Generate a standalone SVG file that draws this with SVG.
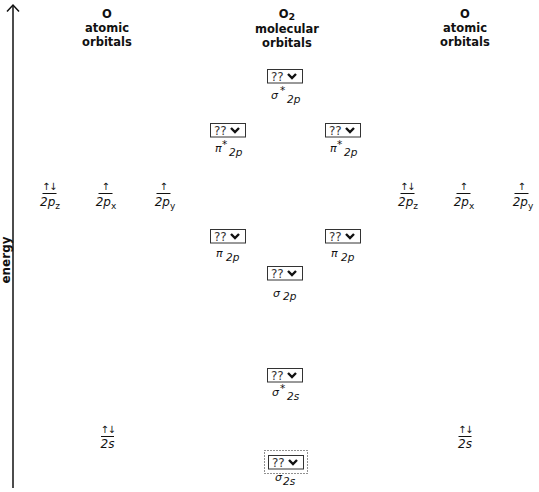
<svg xmlns="http://www.w3.org/2000/svg" width="539" height="492" viewBox="0 0 539 492">
<style>
text{font-family:"DejaVu Sans","Verdana",sans-serif;fill:#111}
.hd{font-weight:bold;font-size:11.5px;text-anchor:middle}
.dd{font-size:12px;fill:#333}
.gr{font-size:11px;font-style:italic}
.st{font-size:10.5px}
.sb{font-size:10.5px;font-style:italic}
.ar{font-size:10px;text-anchor:middle;letter-spacing:-1.5px}
.ao{font-size:12px;font-style:italic;text-anchor:middle}
.ao tspan.s{font-size:9px;font-style:normal}
.lv{stroke:#111;stroke-width:1}
.box{fill:#fff;stroke:#333;stroke-width:1}
.chev{fill:none;stroke:#111;stroke-width:2.4;stroke-linecap:butt;stroke-linejoin:miter}
</style>
<defs>
<symbol id="dd" overflow="visible">
<rect class="box" x="0.5" y="0.5" width="35" height="13.5"/>
<path class="chev" d="M21 5 L25 9 L29 5"/>
</symbol>
</defs>
<rect width="539" height="492" fill="#fff"/>
<g id="axis">
<line x1="13" y1="5" x2="13" y2="488" stroke="#111" stroke-width="1.5"/>
<path d="M7 11.5 L13 5 L19 11.5" fill="none" stroke="#111" stroke-width="1.5"/>
<text transform="translate(9.5,260) rotate(-90)" text-anchor="middle" font-weight="bold" font-size="12">energy</text>
</g>
<g id="header-left">
<text class="hd" x="107" y="18">O</text>
<text class="hd" x="107" y="32">atomic</text>
<text class="hd" x="107" y="46">orbitals</text>
</g>
<g id="header-mid">
<text class="hd" x="287" y="18">O<tspan font-size="9.5" dy="2">2</tspan></text>
<text class="hd" x="287" y="33">molecular</text>
<text class="hd" x="287" y="47">orbitals</text>
</g>
<g id="header-right">
<text class="hd" x="465" y="18">O</text>
<text class="hd" x="465" y="32">atomic</text>
<text class="hd" x="465" y="46">orbitals</text>
</g>
<g id="sigma-star-2p">
<use href="#dd" x="267" y="69"/>
<text class="dd" x="271" y="81">??</text>
<text class="gr" x="271" y="99">σ</text>
<text class="st" x="280" y="94">*</text>
<text class="sb" x="287" y="103">2p</text>
</g>
<g id="pi-star-2p-a">
<use href="#dd" x="210" y="123"/>
<text class="dd" x="214" y="135">??</text>
<text class="gr" x="215" y="152">π</text>
<text class="st" x="222" y="148">*</text>
<text class="sb" x="229" y="156">2p</text>
</g>
<g id="pi-star-2p-b">
<use href="#dd" x="325" y="123"/>
<text class="dd" x="329" y="135">??</text>
<text class="gr" x="330" y="152">π</text>
<text class="st" x="337" y="148">*</text>
<text class="sb" x="344" y="156">2p</text>
</g>
<g id="pi-2p-a">
<use href="#dd" x="210" y="229"/>
<text class="dd" x="214" y="241">??</text>
<text class="gr" x="216" y="257">π</text>
<text class="sb" x="226" y="261">2p</text>
</g>
<g id="pi-2p-b">
<use href="#dd" x="325" y="229"/>
<text class="dd" x="329" y="241">??</text>
<text class="gr" x="331" y="257">π</text>
<text class="sb" x="341" y="261">2p</text>
</g>
<g id="sigma-2p">
<use href="#dd" x="267" y="266"/>
<text class="dd" x="271" y="278">??</text>
<text class="gr" x="273" y="297">σ</text>
<text class="sb" x="283" y="300">2p</text>
</g>
<g id="sigma-star-2s">
<use href="#dd" x="267" y="368"/>
<text class="dd" x="271" y="380">??</text>
<text class="gr" x="272" y="396">σ</text>
<text class="st" x="280" y="392">*</text>
<text class="sb" x="287" y="400">2s</text>
</g>
<g id="sigma-2s">
<rect x="264.5" y="450.5" width="43" height="23" fill="none" stroke="#222" stroke-width="1" stroke-dasharray="1,2"/>
<use href="#dd" x="268" y="455"/>
<text class="dd" x="272" y="467">??</text>
<text class="gr" x="275" y="481">σ</text>
<text class="sb" x="283" y="485">2s</text>
</g>
<g id="O-left-2pz">
<text class="ar" x="49" y="190">↑↓</text>
<line class="lv" x1="42.5" y1="193.5" x2="56.5" y2="193.5"/>
<text class="ao" x="50" y="206">2p<tspan class="s" dy="3">z</tspan></text>
</g>
<g id="O-left-2px">
<text class="ar" x="105" y="190">↑</text>
<line class="lv" x1="98.5" y1="193.5" x2="112.5" y2="193.5"/>
<text class="ao" x="106" y="206">2p<tspan class="s" dy="3">x</tspan></text>
</g>
<g id="O-left-2py">
<text class="ar" x="163" y="190">↑</text>
<line class="lv" x1="156.5" y1="193.5" x2="170.5" y2="193.5"/>
<text class="ao" x="165" y="206">2p<tspan class="s" dy="3">y</tspan></text>
</g>
<g id="O-right-2pz">
<text class="ar" x="407" y="190">↑↓</text>
<line class="lv" x1="400.5" y1="193.5" x2="414.5" y2="193.5"/>
<text class="ao" x="408" y="206">2p<tspan class="s" dy="3">z</tspan></text>
</g>
<g id="O-right-2px">
<text class="ar" x="463" y="190">↑</text>
<line class="lv" x1="456.5" y1="193.5" x2="470.5" y2="193.5"/>
<text class="ao" x="464" y="206">2p<tspan class="s" dy="3">x</tspan></text>
</g>
<g id="O-right-2py">
<text class="ar" x="521" y="190">↑</text>
<line class="lv" x1="514.5" y1="193.5" x2="528.5" y2="193.5"/>
<text class="ao" x="523" y="206">2p<tspan class="s" dy="3">y</tspan></text>
</g>
<g id="O-left-2s">
<text class="ar" x="107.5" y="433">↑↓</text>
<line class="lv" x1="101" y1="436.5" x2="114" y2="436.5"/>
<text class="ao" x="107.5" y="448">2s</text>
</g>
<g id="O-right-2s">
<text class="ar" x="465" y="433">↑↓</text>
<line class="lv" x1="458.5" y1="436.5" x2="471.5" y2="436.5"/>
<text class="ao" x="465" y="448">2s</text>
</g>
<g id="connectors"/>
</svg>
